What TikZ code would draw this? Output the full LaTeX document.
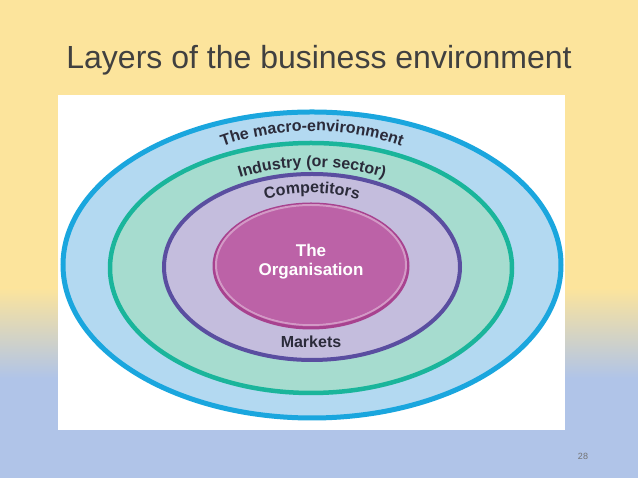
\documentclass[tikz,border=0pt]{standalone}
\usepackage{fontspec}
\setmainfont{Liberation Sans}
\usetikzlibrary{decorations.text}
\definecolor{bgy}{HTML}{FCE49C}
\definecolor{bgb}{HTML}{B0C4E8}
\definecolor{ringA}{HTML}{B3D9F1}
\definecolor{ringAb}{HTML}{1AA6DE}
\definecolor{ringB}{HTML}{A6DCCF}
\definecolor{ringBb}{HTML}{1AB59B}
\definecolor{ringC}{HTML}{C4BDDD}
\definecolor{ringCb}{HTML}{5A4EA0}
\definecolor{ringD}{HTML}{BC62A7}
\definecolor{ringDb}{HTML}{A8428F}
\definecolor{lab}{HTML}{2B2B3A}
\newcommand{\lbfont}{\fontsize{16}{16}\selectfont\bfseries\color{lab}}
\begin{document}
\begin{tikzpicture}[x=1pt,y=1pt,
  ring/.style={line width=5pt},
  curved/.style={decorate,decoration={text along path,text align=center,text={|\lbfont|#1}}}]
\useasboundingbox (0,0) rectangle (638,478);
\fill[bgy] (0,478) rectangle (638,190);
\shade[top color=bgy,bottom color=bgb] (0,190) rectangle (638,100);
\fill[bgb] (0,100) rectangle (638,0);
\node[text=black!75,font=\fontsize{32}{32}\selectfont] (title) at (319,418) {Layers of the business environment};
\node[text=black!55,font=\fontsize{9}{9}\selectfont] (pg) at (583,22) {28};
\fill[white] (58,48) rectangle (565,383);
\coordinate (c) at (312,213);
\draw[ring,ringAb,fill=ringA] (c) ellipse[x radius=249,y radius=153];
\draw[line width=4.5pt,ringBb,fill=ringB] (311,210) ellipse[x radius=201,y radius=125];
\draw[line width=4pt,ringCb,fill=ringC] (312,211) ellipse[x radius=148,y radius=93];
\draw[line width=3pt,ringDb,fill=ringD] (311,212) ellipse[x radius=97,y radius=62];
\draw[line width=2pt,white!35!ringD] (311,213) ellipse[x radius=95,y radius=60];
\fill[ringD] (311,212) ellipse[x radius=93,y radius=58];
\coordinate (k) at (312,188);
\path[curved={The macro-environment}] ([shift={(125:210 and 159)}]k) arc[start angle=125,end angle=55,x radius=210,y radius=159];
\path[curved={Industry (or sector)}] ([shift={(127:175 and 123)}]k) arc[start angle=127,end angle=53,x radius=175,y radius=123];
\path[curved={Competitors}] ([shift={(130:130 and 97)}]k) arc[start angle=130,end angle=50,x radius=130,y radius=97];
\node[font=\lbfont] (mk) at (311,136) {Markets};
\node[font=\fontsize{17}{19}\selectfont\bfseries,text=white,align=center] (org) at (311,216) {The\\Organisation};
\end{tikzpicture}
\end{document}
